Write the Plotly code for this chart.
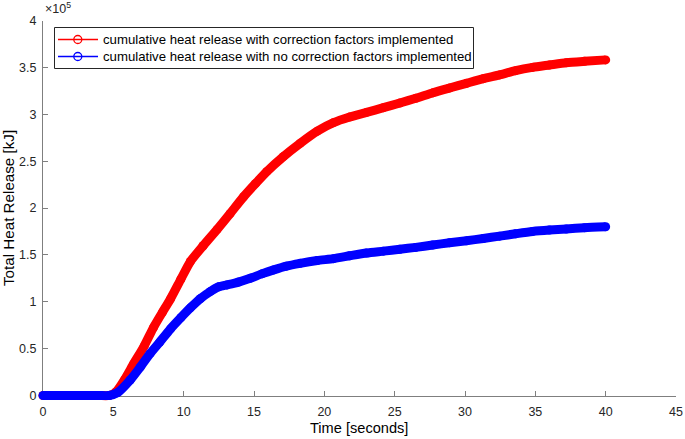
import plotly.graph_objects as go

# Time [s] and cumulative heat release [kJ]
time_red = [0, 1, 2, 3, 4, 4.7, 5.2, 5.8, 6.45, 7.2, 7.87, 8.5, 9.06, 9.8, 10.48,
            11.4, 12.37, 13.3, 14.26, 15.1, 15.92, 17.1, 18.28, 19.5, 20.65, 21.8,
            23.0, 24.2, 25.37, 26.5, 27.73, 28.9, 30.1, 31.3, 32.46, 33.6, 34.8,
            36.0, 37.2, 38.5, 40.0]
heat_red = [0, 0, 0, 0, 0, 0, 4000, 17000, 34000, 53000, 73000, 89000, 103000, 124000, 143000,
            160000, 177000, 194000, 212000, 226000, 239000, 255000, 269000, 282000, 291000, 297000,
            302000, 307000, 312000, 317000, 323000, 328000, 333000, 338000, 342000, 346500, 350000,
            352500, 355000, 356500, 358000]

time_blue = [0, 1, 2, 3, 4, 4.7, 5.3, 6.2, 6.9, 7.63, 8.3, 9.06, 9.8, 10.48,
             11.2, 11.9, 12.5, 13.08, 13.9, 14.73, 15.6, 16.4, 17.3, 18.28,
             19.5, 20.65, 21.8, 23.0, 24.2, 25.37, 26.5, 27.7, 28.9, 30.1,
             31.3, 32.46, 33.6, 34.8, 36.0, 37.2, 38.5, 40.0]
heat_blue = [0, 0, 0, 0, 0, 0, 3000, 16500, 30000, 45000, 57000, 71000, 83000, 93500,
             103500, 111000, 116000, 118000, 121000, 125000, 130000, 134000, 138000, 141000,
             144000, 146000, 149000, 152000, 154000, 156000, 158000, 160500, 163000, 165000,
             167500, 170000, 172500, 175000, 176500, 177600, 179000, 180000]

series_names = ["cumulative heat release with correction factors implemented",
                "cumulative heat release with no correction factors implemented"]
series_colors = ["#FF0000", "#0000FF"]

x_ticks = [0, 5, 10, 15, 20, 25, 30, 35, 40, 45]
y_ticks = [0, 50000, 100000, 150000, 200000, 250000, 300000, 350000, 400000]
y_tick_labels = ["0", "0.5", "1", "1.5", "2", "2.5", "3", "3.5", "4"]
x_range = [0, 45]
y_range = [0, 400000]

FONT = "Liberation Sans, Arial, Helvetica, sans-serif"
AXC = "#262626"
W, H = 685, 439
# visible plot box in pixels
PL, PR, PT, PB = 43, 676, 20.5, 395.5

xs_per_px = (x_range[1] - x_range[0]) / (PR - PL)
ys_per_px = (y_range[1] - y_range[0]) / (PB - PT)
x_range_full = [x_range[0] - PL * xs_per_px, x_range[1] + (W - PR) * xs_per_px]
y_range_full = [y_range[0] - (H - PB) * ys_per_px, y_range[1] + PT * ys_per_px]


def px(x):
    return x / W


def py(y):
    return 1 - y / H


fig = go.Figure()
# an empty trace keeps the visible axes alive
fig.add_trace(go.Scatter(x=[None], y=[None], xaxis="x", yaxis="y", showlegend=False))
for name, xs, ys, col in [(series_names[0], time_red, heat_red, series_colors[0]),
                          (series_names[1], time_blue, heat_blue, series_colors[1])]:
    fig.add_trace(go.Scatter(x=xs, y=ys, mode="lines+markers", name=name, xaxis="x2", yaxis="y2",
                             line=dict(color=col, width=9, shape="spline", smoothing=0.6),
                             marker=dict(color=col, size=9),
                             cliponaxis=False, showlegend=False, hoverinfo="skip"))

axis_common = dict(showline=True, linecolor="#7f7f7f", linewidth=1, ticks="inside", ticklen=5,
                   tickcolor="#7f7f7f", showgrid=False, zeroline=False, automargin=False,
                   tickfont=dict(size=12.5, color=AXC, family=FONT))

fig.update_layout(
    width=W, height=H,
    margin=dict(l=0, r=0, t=0, b=0),
    paper_bgcolor="white", plot_bgcolor="rgba(0,0,0,0)",
    font=dict(family=FONT, size=13, color=AXC),
    showlegend=False,
    xaxis=dict(domain=[px(PL), px(PR)], range=x_range, tickvals=x_ticks, anchor="y",
               ticklabelstandoff=4, **axis_common),
    yaxis=dict(domain=[py(PB), py(PT)], range=y_range, tickvals=y_ticks, anchor="x",
               ticktext=y_tick_labels, ticklabelstandoff=3, **axis_common),
    xaxis2=dict(domain=[0, 1], range=x_range_full, visible=False, anchor="y2"),
    yaxis2=dict(domain=[0, 1], range=y_range_full, visible=False, anchor="x2"),
)

# legend (MATLAB style box)
LX0, LX1, LY0, LY1 = 54.5, 473.5, 27.5, 68.5
fig.add_shape(type="rect", xref="paper", yref="paper", x0=px(LX0), x1=px(LX1), y0=py(LY1), y1=py(LY0),
              line=dict(color=AXC, width=1), fillcolor="white", layer="above")
for name, col, ry in zip(series_names, series_colors, [39.5, 56.5]):
    fig.add_shape(type="line", xref="paper", yref="paper", x0=px(58), x1=px(98), y0=py(ry), y1=py(ry),
                  line=dict(color=col, width=1.3), layer="above")
    fig.add_shape(type="circle", xref="paper", yref="paper", x0=px(73.8), x1=px(81.8),
                  y0=py(ry + 4), y1=py(ry - 4), line=dict(color=col, width=1.3), layer="above")
    fig.add_annotation(text=name, xref="paper", yref="paper", x=px(101), y=py(ry),
                       xanchor="left", yanchor="middle", showarrow=False,
                       font=dict(size=13.2, color="#000000"))

fig.add_annotation(text="Time [seconds]", xref="paper", yref="paper",
                   x=px((PL + PR) / 2), y=py(427.5), xanchor="center", yanchor="middle",
                   showarrow=False, font=dict(size=14.6, color="#000000"))
fig.add_annotation(text="Total Heat Release [kJ]", xref="paper", yref="paper",
                   x=px(8), y=py((PT + PB) / 2), xanchor="center", yanchor="middle",
                   textangle=-90, showarrow=False, font=dict(size=15.2, color="#000000"))
fig.add_annotation(text="×10<sup>5</sup>", xref="paper", yref="paper", x=px(PL), y=py(18),
                   xanchor="left", yanchor="bottom", showarrow=False,
                   font=dict(size=12.5, color=AXC))

fig.write_html("out.html", config={"displayModeBar": False},
               post_script="document.body.style.margin='0';")
